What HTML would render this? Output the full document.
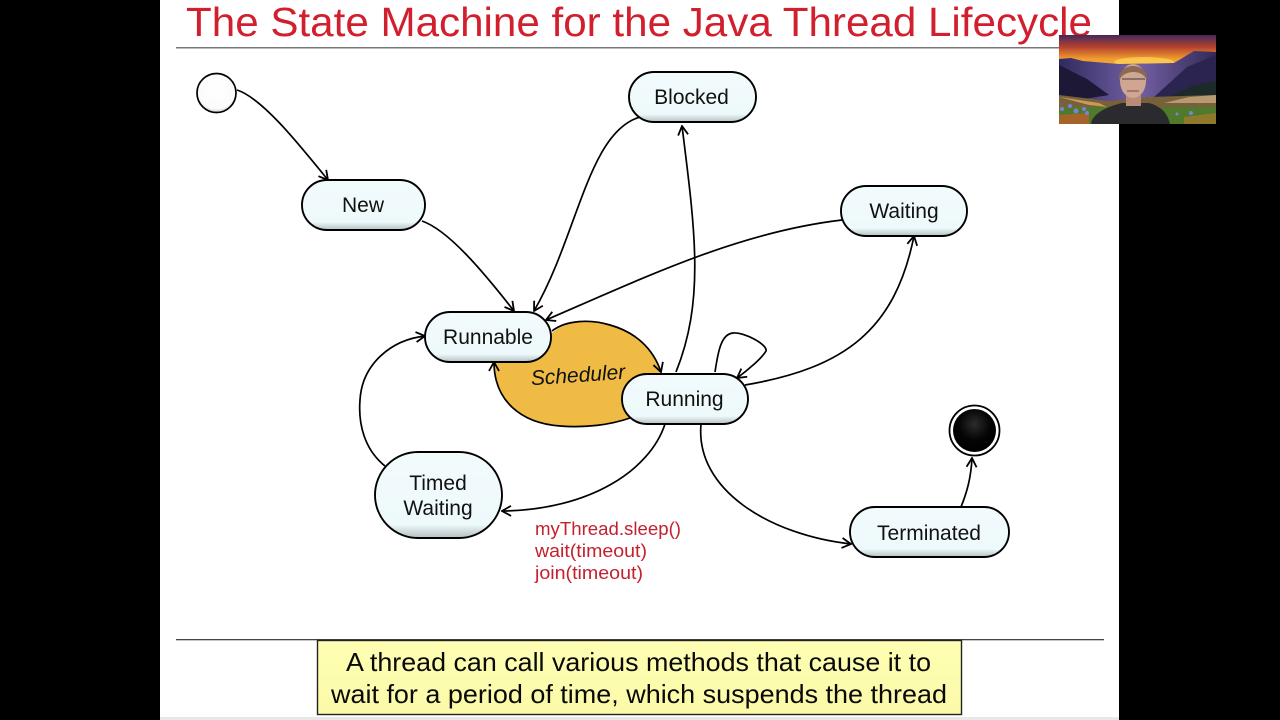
<!DOCTYPE html>
<html><head><meta charset="utf-8"><style>
html,body{margin:0;padding:0;background:#000;width:1280px;height:720px;overflow:hidden}
svg{display:block}
text{font-family:"Liberation Sans",sans-serif}
</style></head><body>
<svg width="1280" height="720" viewBox="0 0 1280 720" xmlns="http://www.w3.org/2000/svg">
<defs>
<linearGradient id="nf" x1="0" y1="0" x2="0" y2="1"><stop offset="0" stop-color="#f2fbfc"/><stop offset=".84" stop-color="#eef9fb"/><stop offset="1" stop-color="#b5c0c2"/></linearGradient>
<radialGradient id="sc" cx=".5" cy=".4" r=".65"><stop offset="0" stop-color="#fff"/><stop offset=".78" stop-color="#fbfbfb"/><stop offset="1" stop-color="#b0b0b0"/></radialGradient>
<radialGradient id="bc" cx=".5" cy=".35" r=".6"><stop offset="0" stop-color="#2c2c2c"/><stop offset=".6" stop-color="#050505"/><stop offset="1" stop-color="#000"/></radialGradient>
<linearGradient id="sky" x1="0" y1="0" x2="0" y2="1"><stop offset="0" stop-color="#43295a"/><stop offset=".35" stop-color="#b5412f"/><stop offset=".7" stop-color="#f09c2e"/><stop offset="1" stop-color="#f2b53c"/></linearGradient>
<linearGradient id="mt" x1="0" y1="0" x2="1" y2="0"><stop offset="0" stop-color="#2f2a5e"/><stop offset=".5" stop-color="#7460a4"/><stop offset="1" stop-color="#332a58"/></linearGradient>
<linearGradient id="yb" x1="0" y1="0" x2="0" y2="1"><stop offset="0" stop-color="#ffffb4"/><stop offset="1" stop-color="#fafaa8"/></linearGradient>
<marker id="a" viewBox="0 0 12 12" refX="11" refY="6" markerWidth="12" markerHeight="12" markerUnits="userSpaceOnUse" orient="auto"><path d="M2 1 L11 6 L2 11" fill="none" stroke="#000" stroke-width="1.8"/></marker>
</defs>
<rect width="1280" height="720" fill="#000"/>
<rect x="160" y="0" width="959" height="720" fill="#fff"/>
<text x="186" y="36" font-size="41" fill="#d11f2d" textLength="906" lengthAdjust="spacingAndGlyphs">The State Machine for the Java Thread Lifecycle</text>
<rect x="176" y="47" width="884" height="1.5" fill="#777"/>

<path d="M552 333 C566 320 590 319 610 325 C635 332 653 346 661 372 L661 400 L630 418 C610 425 585 428 560 426 C520 423 496 400 494 366 L494 340 Z" fill="#efbb45"/>
<path d="M552 331 C566 320 590 319 610 325 C635 332 653 348 661 372" fill="none" stroke="#000" stroke-width="1.7" marker-end="url(#a)"/>
<path d="M630 418 C610 425 585 428 560 426 C520 423 494 400 494 362" fill="none" stroke="#000" stroke-width="1.7" marker-end="url(#a)"/>
<text x="578" y="382" font-size="21" font-style="italic" fill="#111" text-anchor="middle" transform="rotate(-4 578 375)">Scheduler</text>

<g fill="none" stroke="#000" stroke-width="1.7">
<path d="M237 90 C262 98 298 143 328 180" marker-end="url(#a)"/>
<path d="M422 221 C448 230 482 270 514 311" marker-end="url(#a)"/>
<path d="M640 117 C588 132 578 235 534 311" marker-end="url(#a)"/>
<path d="M676 372 C705 300 695 230 682 126" marker-end="url(#a)"/>
<path d="M842 220 C740 232 650 275 546 320" marker-end="url(#a)"/>
<path d="M745 385 C845 368 895 330 914 236" marker-end="url(#a)"/>
<path d="M715 372 C718 352 721 334 733 333 C745 332 768 345 766 351 C762 358 748 370 737 378" marker-end="url(#a)"/>
<path d="M385 466 C365 450 358 425 360 400 C362 365 390 340 425 336" marker-end="url(#a)"/>
<path d="M665 424 C650 470 590 510 502 511" marker-end="url(#a)"/>
<path d="M701 424 C695 490 770 535 851 544" marker-end="url(#a)"/>
<path d="M961 507 C967 492 971 478 972 458" marker-end="url(#a)"/>
</g>

<g stroke="#000" stroke-width="1.9" fill="url(#nf)">
<rect x="629" y="72" width="127" height="50" rx="25"/>
<rect x="302" y="180" width="123" height="50" rx="25"/>
<rect x="841" y="186" width="126" height="50" rx="25"/>
<rect x="425" y="312" width="126" height="50" rx="25"/>
<rect x="622" y="374" width="126" height="50" rx="25"/>
<rect x="375" y="452" width="127" height="86" rx="43"/>
<rect x="850" y="507" width="159" height="50" rx="25"/>
</g>
<circle cx="216.500" cy="93" r="19.500" fill="url(#sc)" stroke="#000" stroke-width="1.700"/>
<circle cx="974.500" cy="430.500" r="25" fill="#fff" stroke="#000" stroke-width="1.800"/>
<circle cx="974.500" cy="430.500" r="21.500" fill="url(#bc)"/>

<g font-size="21" fill="#111" text-anchor="middle">
<text x="691.500" y="104">Blocked</text>
<text x="363" y="212">New</text>
<text x="904" y="218">Waiting</text>
<text x="488" y="344">Runnable</text>
<text x="684.500" y="406">Running</text>
<text x="438" y="490">Timed</text>
<text x="438" y="515">Waiting</text>
<text x="929" y="540">Terminated</text>
</g>
<g font-size="18" fill="#c4202e">
<text x="535" y="535" textLength="146" lengthAdjust="spacingAndGlyphs">myThread.sleep()</text>
<text x="535" y="557" textLength="112" lengthAdjust="spacingAndGlyphs">wait(timeout)</text>
<text x="535" y="579" textLength="108" lengthAdjust="spacingAndGlyphs">join(timeout)</text>
</g>

<rect x="176" y="639" width="928" height="1.300" fill="#444"/>
<rect x="317.500" y="640.500" width="644" height="74" fill="url(#yb)" stroke="#222" stroke-width="1.400"/>
<g font-size="26" fill="#0a0a0a">
<text x="346" y="671" textLength="585" lengthAdjust="spacingAndGlyphs">A thread can call various methods that cause it to</text>
<text x="331" y="703" textLength="616" lengthAdjust="spacingAndGlyphs">wait for a period of time, which suspends the thread</text>
</g>
<rect x="160" y="717" width="959" height="3" fill="#e8e8e8"/>

<!-- webcam -->
<svg x="1059" y="35" width="157" height="89" viewBox="0 0 157 89">
<rect width="157" height="34" fill="url(#sky)"/>
<ellipse cx="85" cy="27" rx="30" ry="5" fill="#ffd65a" opacity=".7"/>
<path d="M0 24 L12 23 L24 26 L60 29 L115 28 L135 16 L157 17 L157 89 L0 89 Z" fill="url(#mt)"/>
<path d="M0 30 L28 44 L50 60 L0 68 Z" fill="#1c1836"/>
<path d="M95 62 L128 32 L157 20 L157 66 Z" fill="#2c2450"/>
<path d="M110 62 L135 50 L157 46 L157 66 Z" fill="#1e2a2a"/>
<path d="M0 60 L50 66 L90 62 L157 60 L157 89 L0 89 Z" fill="#77603a"/>
<path d="M0 62 L30 70 L48 72 L40 68 Z" fill="#c99a58"/>
<path d="M105 68 L130 62 L157 60 L157 68 Z" fill="#b89a70"/>
<path d="M0 72 L50 72 L157 72 L157 89 L0 89 Z" fill="#4f7a2c"/>
<path d="M0 80 L30 78 L30 89 L0 89 Z" fill="#a5642a"/>
<path d="M125 82 L157 78 L157 89 L125 89 Z" fill="#8f7a2c"/>
<g fill="#7d80d8"><circle cx="3" cy="74" r="2"/><circle cx="11" cy="71" r="2"/><circle cx="17" cy="76" r="2.500"/><circle cx="25" cy="74" r="2"/><circle cx="28" cy="78" r="2"/><circle cx="132" cy="78" r="2"/><circle cx="118" cy="79" r="1.500"/></g>
<path d="M32 89 C33 78 50 71 63 68 L90 68 C104 72 109 80 111 89 Z" fill="#2b2a2e"/>
<rect x="67" y="58" width="15" height="13" fill="#b98c78"/>
<ellipse cx="74" cy="46" rx="13" ry="17" fill="#cfa692"/>
<path d="M60 46 C58 26 90 26 88 46 C85 34 64 34 60 46 Z" fill="#8a6a52"/>
<rect x="63" y="43" width="23" height="2" fill="#6a5a55" opacity=".7"/>
<rect x="68" y="55" width="12" height="2" fill="#8c5a50" opacity=".6"/>
</svg>
</svg>
</body></html>
